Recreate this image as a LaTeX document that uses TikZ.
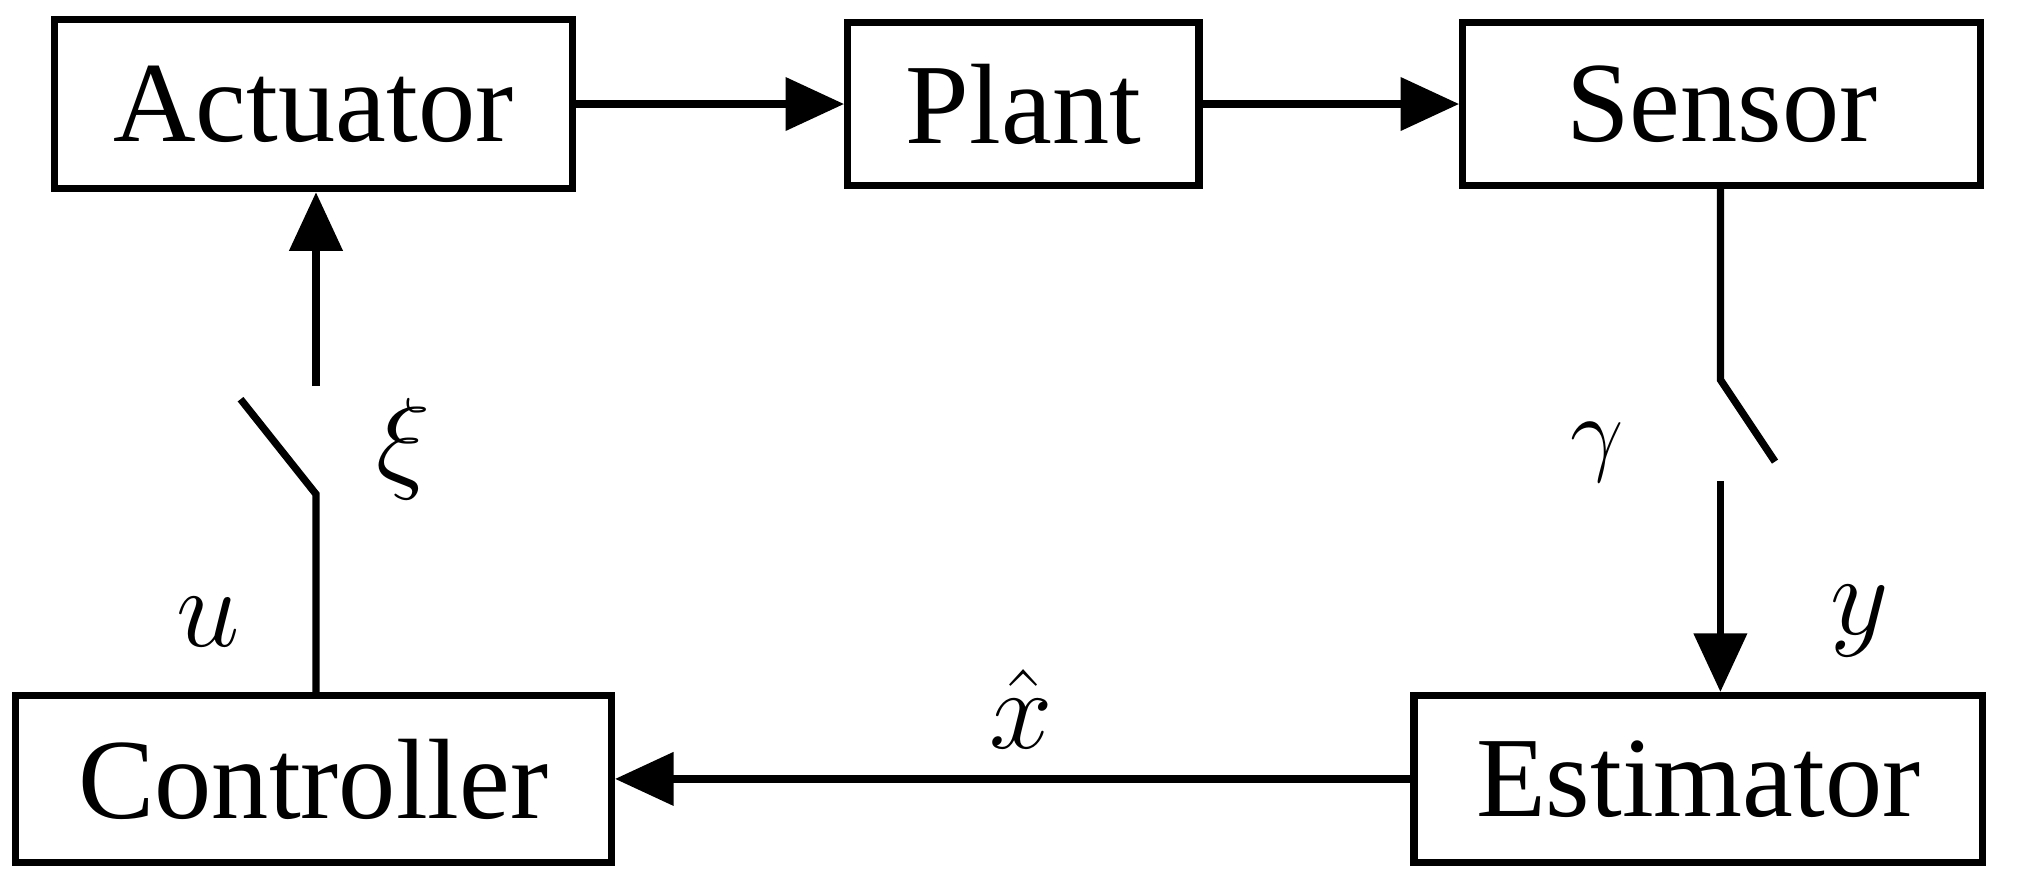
\documentclass[tikz,border=0pt]{standalone}
\usepackage{fontspec}
\setmainfont{Liberation Serif}
\usetikzlibrary{arrows.meta}
\begin{document}
\begin{tikzpicture}[x=0.01cm,y=-0.01cm,
  box/.style={draw,line width=1.6pt,inner sep=0pt,font=\fontsize{25}{30}\selectfont},
  ln/.style={line width=1.6pt},
  arr/.style={ln,-{Triangle[length=0.45cm,width=0.4cm]}},
  lab/.style={font=\fontsize{28}{32}\selectfont}]
\useasboundingbox (0,0) rectangle (1568,680);
\node[box,minimum width=3.98cm,minimum height=1.30cm] (act) at (241,80) {Actuator};
\node[box,minimum width=2.70cm,minimum height=1.25cm] (pl) at (787,80) {Plant};
\node[box,minimum width=3.98cm,minimum height=1.25cm] (sen) at (1324,80) {Sensor};
\node[box,minimum width=4.58cm,minimum height=1.28cm] (con) at (241,599) {Controller};
\node[box,minimum width=4.37cm,minimum height=1.28cm] (est) at (1306,599) {Estimator};
\draw[arr] (act.east) -- (pl.west);
\draw[arr] (pl.east) -- (sen.west);
\coordinate (ls) at (243,380); \coordinate (lb) at (185,307); \coordinate (lt) at (243,297);
\draw[ln] (con.north -| ls) -- (ls) -- (lb);
\draw[arr] (lt) -- (act.south -| lt);
\coordinate (rs) at (1323,292); \coordinate (rb) at (1365,355); \coordinate (rt) at (1323,370);
\draw[ln] (sen.south -| rs) -- (rs) -- (rb);
\draw[arr] (rt) -- (est.north -| rt);
\draw[arr] (est.west) -- (con.east);
\node[lab] (xi) at (310,345) {$\xi$};
\node[lab,font=\fontsize{34}{38}\selectfont] (u) at (160,478) {$u$};
\node[lab,font=\fontsize{22}{26}\selectfont] (ga) at (1228,348) {$\gamma$};
\node[lab,font=\fontsize{34}{38}\selectfont] (yy) at (1430,478) {$y$};
\node[lab] (xh) at (785,545) {$\hat{x}$};
\end{tikzpicture}
\end{document}
